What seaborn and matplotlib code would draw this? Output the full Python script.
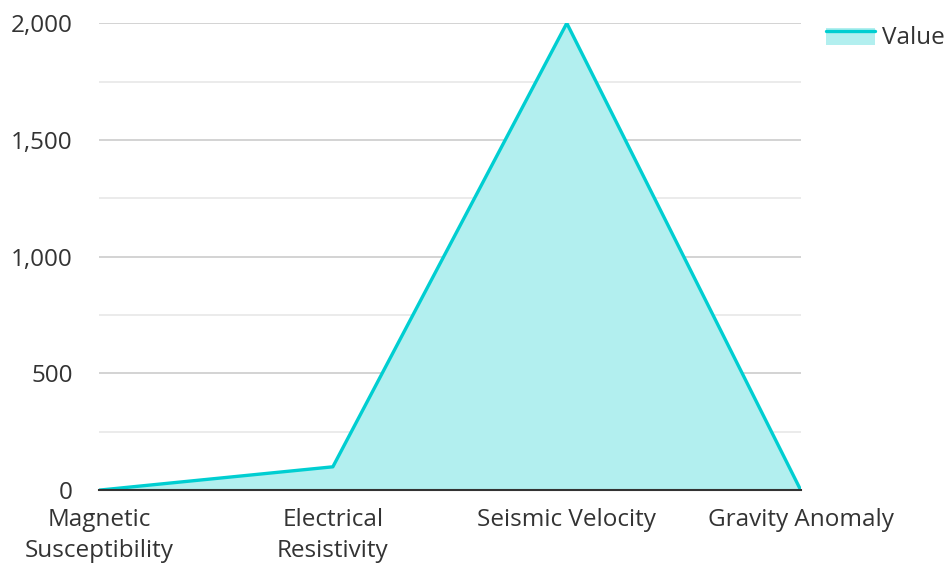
import pandas as pd
import numpy as np
import matplotlib.pyplot as plt
import seaborn as sns
from matplotlib.legend_handler import HandlerBase
from matplotlib.patches import Rectangle
from matplotlib.lines import Line2D

categories = ['Magnetic Susceptibility', 'Electrical Resistivity', 'Seismic Velocity', 'Gravity Anomaly']
tick_labels = ['Magnetic\nSusceptibility', 'Electrical\nResistivity', 'Seismic Velocity', 'Gravity Anomaly']
values = [0, 100, 2000, 0]

line_col = '#00CED1'
fill_col = '#B2EFEF'

sns.set_style('white')
plt.rcParams['font.family'] = ['Open Sans', 'DejaVu Sans']
plt.rcParams['font.size'] = 17.5

df = pd.DataFrame({'pos': np.arange(len(categories)), 'category': categories, 'value': values})

fig = plt.figure(figsize=(9.51, 5.66), dpi=100)
ax = fig.add_axes([0.104, 0.134, 0.738, 0.825])

ax.fill_between(df['pos'], df['value'], 0, color=fill_col, zorder=2, linewidth=0)
sns.lineplot(data=df, x='pos', y='value', color=line_col, linewidth=2.4, ax=ax, zorder=3)

ax.set_xlim(0, len(categories) - 1)
ax.set_ylim(0, 2000)
ax.set_yticks([0, 500, 1000, 1500, 2000])
ax.set_yticks([250, 750, 1250, 1750], minor=True)
ax.set_yticklabels(['0', '500', '1,000', '1,500', '2,000'])
ax.set_xticks(df['pos'])
ax.set_xticklabels(tick_labels, linespacing=1.35)
ax.grid(axis='y', which='major', color='#c8c8c8', linewidth=1.1, zorder=0)
ax.grid(axis='y', which='minor', color='#e6e6e6', linewidth=1.1, zorder=0)
ax.set_axisbelow(True)
ax.tick_params(axis='both', which='both', length=0, colors='#333333', labelsize=17.5)
ax.tick_params(axis='y', pad=19)
ax.tick_params(axis='x', pad=13)
ax.set_xlabel('')
ax.set_ylabel('')
for s in ['top', 'right', 'left']:
    ax.spines[s].set_visible(False)
ax.spines['bottom'].set_color('#333333')
ax.spines['bottom'].set_linewidth(1.5)
ax.spines['bottom'].set_zorder(4)


class AreaHandler(HandlerBase):
    def create_artists(self, legend, orig, xd, yd, width, height, fontsize, trans):
        r = Rectangle((xd, yd), width, height, facecolor=fill_col, edgecolor='none', transform=trans)
        l = Line2D([xd, xd + width], [yd + height * 0.85, yd + height * 0.85], color=line_col, linewidth=2.4, transform=trans)
        return [r, l]


h = Rectangle((0, 0), 1, 1)
leg = ax.legend([h], ['Value'], handler_map={Rectangle: AreaHandler()}, loc='upper left',
                bbox_to_anchor=(1.012, 1.03), frameon=False, handlelength=2.0, handleheight=0.65,
                handletextpad=0.3, fontsize=17.5, borderaxespad=0.3)
for t in leg.get_texts():
    t.set_color('#333333')

fig.savefig('out.png', dpi=100)
